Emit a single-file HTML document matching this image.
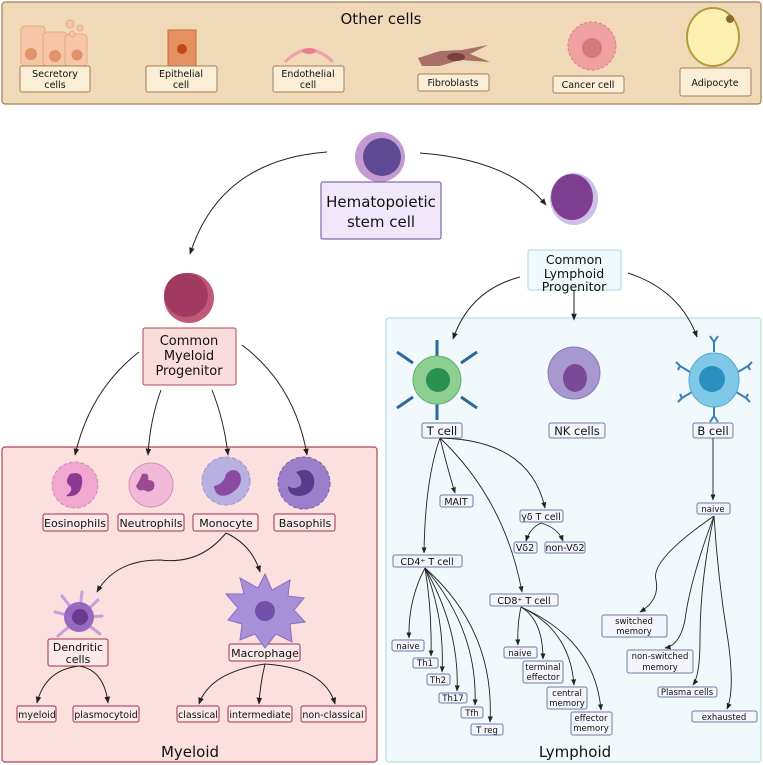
<!DOCTYPE html>
<html><head><meta charset="utf-8"><style>
html,body{margin:0;padding:0;background:#fff}
svg{display:block}
text{font-family:"DejaVu Sans","Liberation Sans",sans-serif;fill:#111;text-anchor:middle}
.s{font-size:9.5px}
.m{font-size:11px}
</style></head><body>
<svg width="763" height="765" viewBox="0 0 763 765" xmlns="http://www.w3.org/2000/svg">
<defs>
<marker id="a" viewBox="0 0 10 10" refX="9" refY="5" markerWidth="7" markerHeight="7" orient="auto-start-reverse"><path d="M0,1 L10,5 L0,9 z" fill="#222"/></marker>
</defs>
<!-- Top panel -->
<rect x="2" y="2" width="759" height="102" rx="3" fill="#f0d9b6" stroke="#a67c56" stroke-width="1.2"/>
<text x="381" y="24" style="font-size:15px">Other cells</text>
<!-- secretory -->
<g fill="#f7c6a6" stroke="#e3a080" stroke-width="0.8">
<rect x="21" y="26" width="24" height="40" rx="4"/><rect x="43" y="32" width="24" height="34" rx="4"/><rect x="65" y="34" width="22" height="32" rx="4"/>
<circle cx="70" cy="24" r="4"/><circle cx="80" cy="28" r="3"/><circle cx="72" cy="34" r="3"/>
</g>
<g fill="#e0936a"><circle cx="31" cy="54" r="6"/><circle cx="55" cy="56" r="6"/><circle cx="77" cy="55" r="5.5"/></g>
<!-- epithelial -->
<rect x="168" y="30" width="28" height="36" fill="#e59060" stroke="#c36a3a"/>
<circle cx="182" cy="49" r="5" fill="#c04a10"/>
<!-- endothelial -->
<path d="M285,62 Q309,38 333,62" fill="none" stroke="#f0a0a8" stroke-width="3"/>
<ellipse cx="309" cy="51" rx="7" ry="3" fill="#e88090"/>
<!-- fibroblast -->
<path d="M418,58 L440,51 L462,50 L488,45 L470,54 L490,62 L460,60 L440,66 L422,66 Z" fill="#a87068"/>
<ellipse cx="456" cy="57" rx="9" ry="4" fill="#7a4038"/>
<!-- cancer -->
<circle cx="592" cy="46" r="24" fill="#f0a0a0" stroke="#d58080" stroke-dasharray="3 2"/>
<circle cx="592" cy="48" r="10" fill="#d57a7a"/>
<!-- adipocyte -->
<ellipse cx="713" cy="37" rx="26" ry="29" fill="#fbf0b0" stroke="#b39a3a" stroke-width="2"/>
<circle cx="730" cy="19" r="4" fill="#8a6a30"/>
<g fill="#fbeed6" stroke="#a67c56">
<rect x="20" y="66" width="70" height="26" rx="2"/><rect x="146" y="66" width="71" height="26" rx="2"/><rect x="273" y="66" width="71" height="26" rx="2"/>
<rect x="418" y="74" width="71" height="17" rx="2"/><rect x="553" y="76" width="71" height="17" rx="2"/><rect x="680" y="68" width="71" height="28" rx="2"/>
</g>
<g class="s"><text x="55" y="77">Secretory</text><text x="55" y="88">cells</text>
<text x="181" y="77">Epithelial</text><text x="181" y="88">cell</text>
<text x="308" y="77">Endothelial</text><text x="308" y="88">cell</text>
<text x="453" y="86">Fibroblasts</text><text x="588" y="88">Cancer cell</text><text x="715" y="86">Adipocyte</text></g>

<!-- HSC -->
<circle cx="380" cy="157" r="25" fill="#c49ad0"/><circle cx="382" cy="157" r="19" fill="#5e4a92"/>
<rect x="321" y="182" width="120" height="57" rx="2" fill="#f0e8fa" stroke="#6a4a9a"/>
<text x="381" y="207" style="font-size:15px">Hematopoietic</text><text x="381" y="227" style="font-size:15px">stem cell</text>
<path d="M327,152 Q220,160 190,254" fill="none" stroke="#222" marker-end="url(#a)"/>
<path d="M420,153 Q510,160 546,205" fill="none" stroke="#222" marker-end="url(#a)"/>

<!-- CLP -->
<ellipse cx="574" cy="199" rx="24" ry="26" fill="#cfc0e8"/><ellipse cx="572" cy="197" rx="21" ry="23" fill="#7e3f92"/>
<rect x="528" y="250" width="93" height="40" rx="2" fill="#f0fafc" stroke="#a8d8e0"/>
<text x="574" y="264" class="m" style="font-size:12.5px">Common</text><text x="574" y="278" style="font-size:12.5px">Lymphoid</text><text x="574" y="292" style="font-size:12.5px" dy="-1">Progenitor</text>

<!-- CMP -->
<circle cx="189" cy="298" r="25" fill="#c05878"/><circle cx="186" cy="295" r="22" fill="#a03a60"/>
<rect x="143" y="328" width="93" height="57" rx="2" fill="#fadcdc" stroke="#b04a55"/>
<text x="189" y="345" style="font-size:13px">Common</text><text x="189" y="360" style="font-size:13px">Myeloid</text><text x="189" y="375" style="font-size:13px">Progenitor</text>

<!-- Myeloid panel -->
<rect x="2" y="447" width="375" height="315" rx="3" fill="#fbe0df" stroke="#b84050" stroke-width="1.2"/>
<path d="M139,352 Q90,390 75,455" fill="none" stroke="#222" marker-end="url(#a)"/>
<path d="M161,390 Q150,420 148,455" fill="none" stroke="#222" marker-end="url(#a)"/>
<path d="M212,390 Q224,420 228,455" fill="none" stroke="#222" marker-end="url(#a)"/>
<path d="M242,345 Q295,385 307,455" fill="none" stroke="#222" marker-end="url(#a)"/>
<!-- lymphoid panel -->
<rect x="386" y="318" width="375" height="444" rx="3" fill="#f2f9fc" stroke="#b5dbe6" stroke-width="1.2"/>
<path d="M520,277 Q470,290 453,339" fill="none" stroke="#222" marker-end="url(#a)"/>
<path d="M574,290 L574,320" fill="none" stroke="#222" marker-end="url(#a)"/>
<path d="M628,273 Q680,290 697,337" fill="none" stroke="#222" marker-end="url(#a)"/>

<!-- myeloid cells -->
<circle cx="75" cy="485" r="23" fill="#f0a8d0" stroke="#d888b8" stroke-dasharray="4 2"/>
<path d="M70,474 q14,-4 12,10 q-2,14 -16,12 q8,-6 4,-10 q-6,-4 0,-12z" fill="#8a3a90"/>
<circle cx="151" cy="485" r="22" fill="#f2b8d8" stroke="#d890b8"/>
<path d="M142,474 q8,-2 6,6 q8,0 6,8 q-4,6 -10,2 q-6,2 -8,-4 q4,-6 6,-12z" fill="#9a4a90"/>
<circle cx="226" cy="481" r="24" fill="#b8b0e0" stroke="#a098d0" stroke-dasharray="5 2"/>
<path d="M214,486 q10,-2 12,-12 q8,-8 14,0 q4,12 -10,20 q-14,6 -16,-8z" fill="#8a4aa0"/>
<circle cx="304" cy="483" r="26" fill="#9a80c8" stroke="#7a60b0" stroke-dasharray="4 2"/>
<path d="M296,472 q14,-6 18,6 q2,16 -14,18 q-12,0 -12,-10 q6,4 12,0 q4,-6 -4,-14z" fill="#5a3a8a"/>
<g fill="#fbe8ea" stroke="#a03048">
<rect x="43" y="514" width="65" height="17" rx="2"/><rect x="118" y="514" width="66" height="17" rx="2"/><rect x="193" y="514" width="65" height="17" rx="2"/><rect x="274" y="514" width="61" height="17" rx="2"/>
<rect x="48" y="639" width="60" height="27" rx="2"/><rect x="229" y="644" width="71" height="17" rx="2"/>
<rect x="17" y="706" width="39" height="16" rx="2"/><rect x="73" y="706" width="66" height="16" rx="2"/><rect x="177" y="706" width="42" height="16" rx="2"/><rect x="228" y="706" width="64" height="16" rx="2"/><rect x="301" y="706" width="65" height="16" rx="2"/>
</g>
<g class="m"><text x="75" y="527">Eosinophils</text><text x="151" y="527">Neutrophils</text><text x="226" y="527">Monocyte</text><text x="305" y="527">Basophils</text>
<text x="78" y="651">Dendritic</text><text x="78" y="663">cells</text><text x="265" y="657">Macrophage</text></g>
<g class="s"><text x="37" y="718">myeloid</text><text x="106" y="718">plasmocytoid</text><text x="198" y="718">classical</text><text x="260" y="718">intermediate</text><text x="333" y="718">non-classical</text></g>
<!-- dendritic -->
<g stroke="#c8a0d8" stroke-width="3" stroke-linecap="round"><line x1="79" y1="618" x2="62" y2="596"/><line x1="79" y1="618" x2="98" y2="600"/><line x1="79" y1="618" x2="58" y2="636"/><line x1="79" y1="618" x2="100" y2="634"/><line x1="79" y1="618" x2="55" y2="612"/><line x1="79" y1="618" x2="102" y2="616"/><line x1="79" y1="618" x2="82" y2="592"/></g>
<circle cx="79" cy="617" r="15" fill="#9a68c0"/><circle cx="80" cy="617" r="8" fill="#6a3a90"/>
<!-- macrophage -->
<polygon points="265,574 272,590 290,580 288,596 304,598 294,610 305,622 290,624 292,642 276,634 265,648 255,634 240,640 242,624 228,620 238,608 226,594 244,594 240,578 258,588" fill="#a890d8" stroke="#8870c0"/>
<circle cx="265" cy="611" r="10" fill="#7050a8"/>
<path d="M226,533 Q200,565 160,560 Q115,560 97,592" fill="none" stroke="#222" marker-end="url(#a)"/>
<path d="M226,533 Q252,545 260,572" fill="none" stroke="#222" marker-end="url(#a)"/>
<path d="M79,666 Q45,670 37,703" fill="none" stroke="#222" marker-end="url(#a)"/>
<path d="M79,666 Q104,670 108,703" fill="none" stroke="#222" marker-end="url(#a)"/>
<path d="M265,664 Q210,672 199,704" fill="none" stroke="#222" marker-end="url(#a)"/>
<path d="M265,664 Q260,685 259,704" fill="none" stroke="#222" marker-end="url(#a)"/>
<path d="M265,664 Q325,668 335,704" fill="none" stroke="#222" marker-end="url(#a)"/>
<text x="190" y="757" style="font-size:15px">Myeloid</text>

<!-- lymphoid cells -->
<g stroke="#2a6a9a" stroke-width="3">
<line x1="437" y1="340" x2="437" y2="360"/><line x1="437" y1="400" x2="437" y2="420"/>
<line x1="413" y1="363" x2="397" y2="352"/><line x1="461" y1="363" x2="477" y2="352"/>
<line x1="413" y1="397" x2="397" y2="408"/><line x1="461" y1="397" x2="477" y2="408"/></g>
<circle cx="437" cy="380" r="24" fill="#8ccf90" stroke="#60b070"/><circle cx="438" cy="380" r="12" fill="#2a9050"/>
<circle cx="574" cy="373" r="26" fill="#a898d0" stroke="#8878b8"/><ellipse cx="575" cy="378" rx="12" ry="14" fill="#7a4a98"/>
<g stroke="#3a80b8" stroke-width="2" fill="none">
<path d="M714,352 v-10 m-4,-6 l4,6 l4,-6"/><path d="M714,406 v10 m-4,6 l4,-6 l4,6"/>
<path d="M690,372 l-10,-6 m-4,-4 l4,4 l-2,4"/><path d="M738,372 l10,-6 m4,-4 l-4,4 l2,4"/>
<path d="M692,392 l-10,6 m-4,4 l4,-4 l-2,-4"/><path d="M736,392 l10,6 m4,4 l-4,-4 l2,-4"/></g>
<ellipse cx="714" cy="380" rx="25" ry="27" fill="#80c8e8" stroke="#50a8d0"/><circle cx="712" cy="379" r="13" fill="#2a90c0"/>

<g fill="#f4f4fc" stroke="#6c7ca8">
<rect x="422" y="423" width="40" height="15" rx="2"/><rect x="549" y="423" width="56" height="15" rx="2"/><rect x="693" y="423" width="40" height="15" rx="2"/>
<rect x="440" y="495" width="33" height="12" rx="2"/><rect x="520" y="510" width="43" height="12" rx="2"/><rect x="514" y="542" width="23" height="11" rx="2"/><rect x="545" y="542" width="40" height="11" rx="2"/>
<rect x="393" y="555" width="69" height="12" rx="2"/><rect x="490" y="594" width="68" height="12" rx="2"/>
<rect x="392" y="640" width="32" height="11" rx="2"/><rect x="413" y="658" width="25" height="10" rx="2"/><rect x="427" y="674" width="23" height="11" rx="2"/><rect x="439" y="693" width="28" height="10" rx="2"/><rect x="461" y="707" width="22" height="11" rx="2"/><rect x="471" y="724" width="32" height="11" rx="2"/>
<rect x="504" y="647" width="33" height="11" rx="2"/><rect x="523" y="661" width="40" height="22" rx="2"/><rect x="547" y="687" width="40" height="22" rx="2"/><rect x="571" y="712" width="41" height="23" rx="2"/>
<rect x="697" y="503" width="33" height="11" rx="2"/><rect x="602" y="615" width="65" height="22" rx="2"/><rect x="627" y="650" width="66" height="23" rx="2"/><rect x="658" y="687" width="59" height="10" rx="2"/><rect x="692" y="711" width="65" height="11" rx="2"/>
</g>
<g style="font-size:11.5px"><text x="442" y="435">T cell</text><text x="577" y="435">NK cells</text><text x="713" y="435">B cell</text></g>
<g class="s"><text x="456" y="505">MAIT</text><text x="541" y="520">γδ T cell</text><text x="525" y="551">Vδ2</text><text x="565" y="551">non-Vδ2</text>
<text x="427" y="565">CD4⁺ T cell</text><text x="524" y="604">CD8⁺ T cell</text></g>
<g style="font-size:8.5px">
<text x="408" y="649">naive</text><text x="425" y="666">Th1</text><text x="438" y="683">Th2</text><text x="453" y="701">Th17</text><text x="472" y="716">Tfh</text><text x="487" y="733">T reg</text>
<text x="520" y="656">naive</text><text x="543" y="670">terminal</text><text x="543" y="680">effector</text><text x="567" y="696">central</text><text x="567" y="706">memory</text><text x="591" y="721">effector</text><text x="591" y="731">memory</text>
<text x="713" y="512">naive</text><text x="634" y="624">switched</text><text x="634" y="634">memory</text><text x="660" y="659">non-switched</text><text x="660" y="670">memory</text><text x="687" y="695">Plasma cells</text><text x="724" y="720">exhausted</text></g>
<g fill="none" stroke="#222" stroke-width="0.9">
<path d="M440,438 Q425,480 424,553" marker-end="url(#a)"/>
<path d="M440,438 Q448,470 455,493" marker-end="url(#a)"/>
<path d="M440,438 Q530,440 545,508" marker-end="url(#a)"/>
<path d="M440,438 Q505,500 522,592" marker-end="url(#a)"/>
<path d="M541,523 Q530,528 526,541" marker-end="url(#a)"/>
<path d="M541,523 Q558,528 563,541" marker-end="url(#a)"/>
<path d="M425,568 Q408,600 409,638" marker-end="url(#a)"/>
<path d="M425,568 Q432,610 431,656" marker-end="url(#a)"/>
<path d="M425,568 Q445,620 442,672" marker-end="url(#a)"/>
<path d="M425,568 Q460,630 457,691" marker-end="url(#a)"/>
<path d="M425,568 Q478,630 475,705" marker-end="url(#a)"/>
<path d="M425,568 Q495,630 490,722" marker-end="url(#a)"/>
<path d="M521,607 Q517,625 518,645" marker-end="url(#a)"/>
<path d="M521,607 Q543,620 543,659" marker-end="url(#a)"/>
<path d="M521,607 Q570,630 574,685" marker-end="url(#a)"/>
<path d="M521,607 Q595,640 601,710" marker-end="url(#a)"/>
<path d="M713,438 L713,500" marker-end="url(#a)"/>
<path d="M714,516 Q650,560 656,580 Q660,600 640,612" marker-end="url(#a)"/>
<path d="M714,516 Q690,580 685,620 Q680,645 665,648" marker-end="url(#a)"/>
<path d="M714,516 Q700,580 700,640 Q700,675 693,685" marker-end="url(#a)"/>
<path d="M714,516 Q718,580 728,640 Q735,690 727,709" marker-end="url(#a)"/>
</g>
<text x="575" y="757" style="font-size:15px">Lymphoid</text>
</svg>
</body></html>
